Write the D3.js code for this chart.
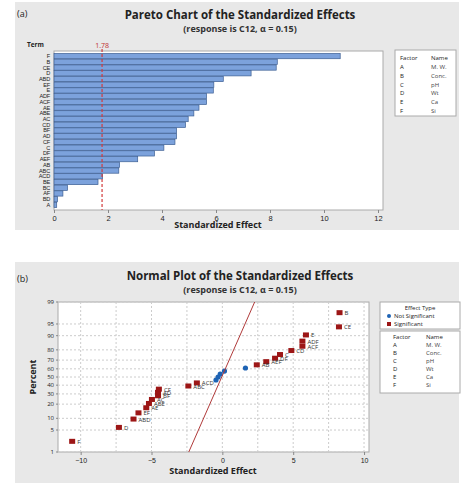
<!DOCTYPE html><html><head><meta charset="utf-8">
<script src="https://cdn.jsdelivr.net/npm/d3@7"></script>
<style>body{margin:0;background:#fff;font-family:"Open Sans",sans-serif}</style></head><body>
<svg id="c" width="474" height="486"></svg>
<script>
const terms=["F","B","CE","D","ABD","EF","E","ADF","ACF","AE","ABE","AC","CD","BF","AD","CF","C","DF","AEF","AB","ABC","ACD","BE","BC","AF","BD","A"];
const effects=[10.6,8.27,8.23,7.3,6.27,5.92,5.9,5.65,5.65,5.37,5.18,4.97,4.87,4.54,4.54,4.48,4.07,3.72,3.1,2.43,2.4,1.8,1.63,0.5,0.33,0.13,0.1];
const factors=["A","B","C","D","E","F"];
const names=["M. W.","Conc.","pH","Wt","Ca","Si"];
const npTerms=["F","D","ABD","EF","AE","ABE","AC","BF","AD","CF","ABC","ACD","A","BD","AF","BC","BE","AB","AEF","DF","C","CD","ACF","ADF","E","CE","B"];
const npEffects=[-10.6,-7.3,-6.27,-5.92,-5.37,-5.18,-4.97,-4.54,-4.54,-4.48,-2.4,-1.8,-0.45,-0.3,-0.15,0.15,1.63,2.43,3.1,3.72,4.07,4.87,5.65,5.65,5.9,8.23,8.27];
const npPercent=[2.3,5.9,9.6,13.3,17,20.6,24.3,28,31.7,35.3,39,42.7,46.3,50,53.7,57.3,61,64.7,68.3,72,75.7,79.4,83,86.7,90.4,94,97.7];
const npSig=[1,1,1,1,1,1,1,1,1,1,1,1,0,0,0,0,0,1,1,1,1,1,1,1,1,1,1];
const pctTicks=[1,5,10,20,30,40,50,60,70,80,90,95,99];
const crit=1.78;
const svg=d3.select("#c");
function probit(p){
 const a=[-39.69683028665376,220.9460984245205,-275.9285104469687,138.3577518672690,-30.66479806614716,2.506628277459239],
 b=[-54.47609879822406,161.5858368580409,-155.6989798598866,66.80131188771972,-13.28068155288572],
 c=[-0.007784894002430293,-0.3223964580411365,-2.400758277161838,-2.549732539343734,4.374664141464968,2.938163982698783],
 d=[0.007784695709041462,0.3224671290700398,2.445134137142996,3.754408661907416];
 let q,r;
 if(p<0.02425){q=Math.sqrt(-2*Math.log(p));return(((((c[0]*q+c[1])*q+c[2])*q+c[3])*q+c[4])*q+c[5])/((((d[0]*q+d[1])*q+d[2])*q+d[3])*q+1);}
 if(p>1-0.02425){q=Math.sqrt(-2*Math.log(1-p));return-(((((c[0]*q+c[1])*q+c[2])*q+c[3])*q+c[4])*q+c[5])/((((d[0]*q+d[1])*q+d[2])*q+d[3])*q+1);}
 q=p-0.5;r=q*q;return(((((a[0]*r+a[1])*r+a[2])*r+a[3])*r+a[4])*r+a[5])*q/(((((b[0]*r+b[1])*r+b[2])*r+b[3])*r+b[4])*r+1);
}
function text(g,x,y,s,o={}){return g.append("text").attr("x",x).attr("y",y).text(s).attr("font-size",o.fs||8).attr("text-anchor",o.a||"start").attr("font-weight",o.w||"normal").attr("fill",o.f||"#222");}
// ===== Panel a
svg.append("rect").attr("x",15).attr("y",2).attr("width",444).attr("height",228).attr("fill","#e8e8e8");
text(svg,17,17,"(a)",{fs:9});
text(svg,240,19,"Pareto Chart of the Standardized Effects",{fs:11.5,a:"middle",w:"bold"});
text(svg,240,32,"(response is C12, α = 0.15)",{fs:9,a:"middle",w:"bold",f:"#333"});
const ax={l:54,r:383,t:51,b:210};
svg.append("rect").attr("x",ax.l).attr("y",ax.t).attr("width",ax.r-ax.l).attr("height",ax.b-ax.t).attr("fill","#fff").attr("stroke","#aaa");
const x1=d3.scaleLinear().domain([0,12]).range([54,378]);
const y1=d3.scaleBand().domain(terms).range([ax.t+2,ax.b-2]).padding(0.08);
svg.append("g").selectAll("rect").data(terms).join("rect").attr("x",x1(0)).attr("y",d=>y1(d)).attr("width",(d,i)=>x1(effects[i])-x1(0)).attr("height",y1.bandwidth()).attr("fill","#7ca2dc").attr("stroke","#3d5f93").attr("stroke-width",0.7);
svg.append("g").attr("transform",`translate(${ax.l},0)`).call(d3.axisLeft(y1).tickSize(0).tickPadding(4)).call(g=>{g.select(".domain").remove();g.selectAll("text").attr("font-size",5.6).attr("fill","#222").attr("dy","0.35em").attr("letter-spacing","-0.2")});
svg.append("g").attr("transform",`translate(0,${ax.b})`).call(d3.axisBottom(x1).ticks(6).tickSize(3)).call(g=>{g.select(".domain").remove();g.selectAll("line").attr("stroke","#888");g.selectAll("text").attr("font-size",7.5).attr("fill","#222")});
svg.append("line").attr("x1",x1(crit)).attr("x2",x1(crit)).attr("y1",ax.t-2).attr("y2",ax.b).attr("stroke","#d23c3c").attr("stroke-dasharray","3,2").attr("stroke-width",1.2);
text(svg,x1(crit),48,"1.78",{fs:7,a:"middle",f:"#c03030"});
text(svg,27,47,"Term",{fs:6.5,w:"bold"});
text(svg,218,228,"Standardized Effect",{fs:9,a:"middle",w:"bold"});
svg.append("rect").attr("x",395).attr("y",50).attr("width",61).attr("height",66).attr("fill","#fff").attr("stroke","#aaa");
text(svg,400,60,"Factor",{fs:6});text(svg,431,60,"Name",{fs:6});
factors.forEach((f,i)=>{text(svg,400,69+i*8.8,f,{fs:6});text(svg,431,69+i*8.8,names[i],{fs:6,f:"#444"});});
// ===== Panel b
svg.append("rect").attr("x",15).attr("y",262).attr("width",444).attr("height",221).attr("fill","#e8e8e8");
text(svg,17,282,"(b)",{fs:9});
text(svg,240,280,"Normal Plot of the Standardized Effects",{fs:11.5,a:"middle",w:"bold"});
text(svg,240,293,"(response is C12, α = 0.15)",{fs:9,a:"middle",w:"bold",f:"#333"});
const bx={l:58,r:369,t:302,b:452};
svg.append("rect").attr("x",bx.l).attr("y",bx.t).attr("width",bx.r-bx.l).attr("height",bx.b-bx.t).attr("fill","#fff").attr("stroke","#aaa");
const x2=d3.scaleLinear().domain([-11.6,10.35]).range([bx.l,bx.r]);
const zy=d3.scaleLinear().domain([probit(0.01),probit(0.99)]).range([bx.b,bx.t]);
const y2=p=>zy(probit(p/100));
const g2=svg.append("g");
[-10,-7.5,-5,-2.5,0,2.5,5,7.5,10].forEach(v=>g2.append("line").attr("x1",x2(v)).attr("x2",x2(v)).attr("y1",bx.t).attr("y2",bx.b).attr("stroke","#ccc").attr("stroke-dasharray","2,2"));
pctTicks.forEach(p=>{g2.append("line").attr("x1",bx.l).attr("x2",bx.r).attr("y1",y2(p)).attr("y2",y2(p)).attr("stroke","#ccc").attr("stroke-dasharray","2,2");
 text(svg,bx.l-4,y2(p)+2,p,{fs:6,a:"end"});g2.append("line").attr("x1",bx.l-2).attr("x2",bx.l).attr("y1",y2(p)).attr("y2",y2(p)).attr("stroke","#888");});
svg.append("g").attr("transform",`translate(0,${bx.b})`).call(d3.axisBottom(x2).tickValues([-10,-5,0,5,10]).tickSize(3)).call(g=>{g.select(".domain").remove();g.selectAll("line").attr("stroke","#888");g.selectAll("text").attr("font-size",7).attr("fill","#222")});
svg.append("line").attr("x1",x2(-2.37)).attr("y1",y2(1)).attr("x2",x2(2.28)).attr("y2",y2(99)).attr("stroke","#b03a3a").attr("stroke-width",1);
npEffects.forEach((e,i)=>{const cx=x2(e),cy=y2(npPercent[i]);
 if(npSig[i]){g2.append("rect").attr("x",cx-3).attr("y",cy-2.5).attr("width",6).attr("height",5).attr("fill","#9c1616");
  text(svg,cx+5,cy+2.5,npTerms[i],{fs:6,f:"#333"});}
 else g2.append("circle").attr("cx",cx).attr("cy",cy).attr("r",2.6).attr("fill","#1e63b4");});
text(svg,213,474,"Standardized Effect",{fs:9,a:"middle",w:"bold"});
svg.append("text").attr("transform","translate(36,377) rotate(-90)").attr("text-anchor","middle").attr("font-size",9).attr("font-weight","bold").attr("fill","#222").text("Percent");
svg.append("rect").attr("x",380).attr("y",302).attr("width",80).attr("height",27).attr("fill","#fff").attr("stroke","#aaa");
text(svg,420,310,"Effect Type",{fs:6,a:"middle"});
svg.append("circle").attr("cx",389).attr("cy",316).attr("r",2).attr("fill","#1e63b4");text(svg,394,318,"Not Significant",{fs:6});
svg.append("rect").attr("x",387).attr("y",322).attr("width",4).attr("height",4).attr("fill","#9c1616");text(svg,394,326,"Significant",{fs:6});
svg.append("rect").attr("x",380).attr("y",331).attr("width",80).attr("height",62).attr("fill","#fff").attr("stroke","#aaa");
text(svg,393,339,"Factor",{fs:6});text(svg,426,339,"Name",{fs:6});
factors.forEach((f,i)=>{text(svg,393,347+i*8,f,{fs:6});text(svg,426,347+i*8,names[i],{fs:6,f:"#444"});});
</script></body></html>
